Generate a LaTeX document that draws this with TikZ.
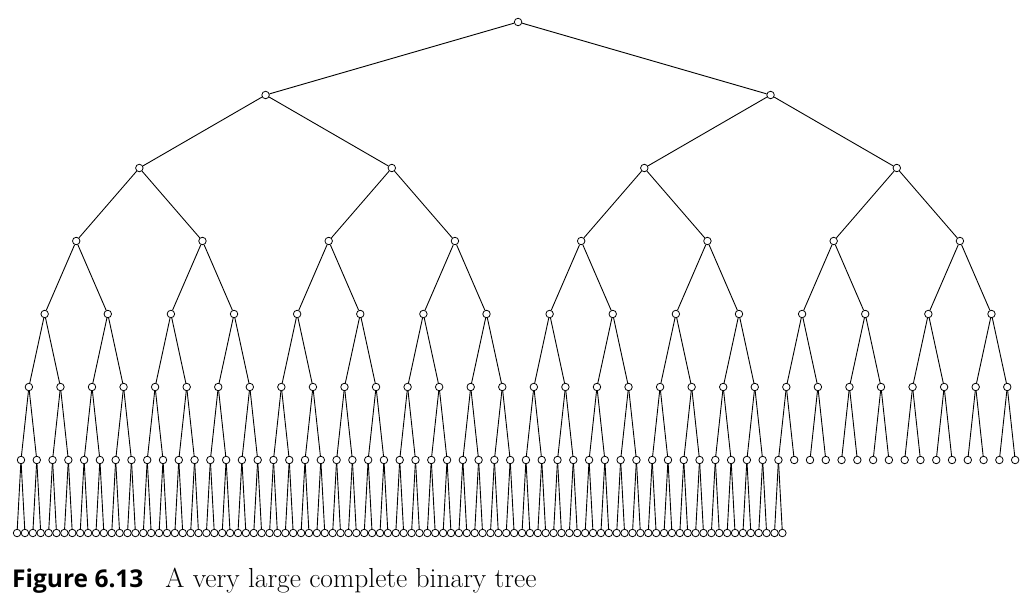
\documentclass[tikz,border=0pt]{standalone}
\usepackage{fontspec}
\newfontfamily\capsans{Open Sans}
\begin{document}
\begin{tikzpicture}[x=1pt,y=-1pt,
  tn/.style={circle,draw,line width=0.8pt,fill=white,inner sep=0pt,minimum size=7.5pt},
  edge/.style={line width=0.9pt}]
\useasboundingbox (0,0) rectangle (1036,604);
\def\xo{17.05}\def\dd{7.89}
\foreach \l in {0,...,7}{
  \pgfmathtruncatemacro\n{\l==7 ? 97 : 2^\l-1}
  \foreach \i in {0,...,\n}{
    \pgfmathsetmacro\xx{\xo+\dd*((\i+0.5)*2^(7-\l)-0.5)}
    \pgfmathsetmacro\yy{22+73*\l}
    \node[tn] (n-\l-\i) at (\xx,\yy) {};
  }
}
\foreach \l in {1,...,7}{
  \pgfmathtruncatemacro\n{\l==7 ? 97 : 2^\l-1}
  \pgfmathtruncatemacro\p{\l-1}
  \foreach \i in {0,...,\n}{
    \pgfmathtruncatemacro\q{floor(\i/2)}
    \draw[edge] (n-\p-\q) -- (n-\l-\i);
  }
}
\node[anchor=base west,inner sep=0pt] (cap) at (12,587) {{\capsans\bfseries\fontsize{24.5}{28}\selectfont Figure 6.13}\hspace{22pt}{\fontsize{27.5}{32}\selectfont A very large complete binary tree}};
\end{tikzpicture}
\end{document}
